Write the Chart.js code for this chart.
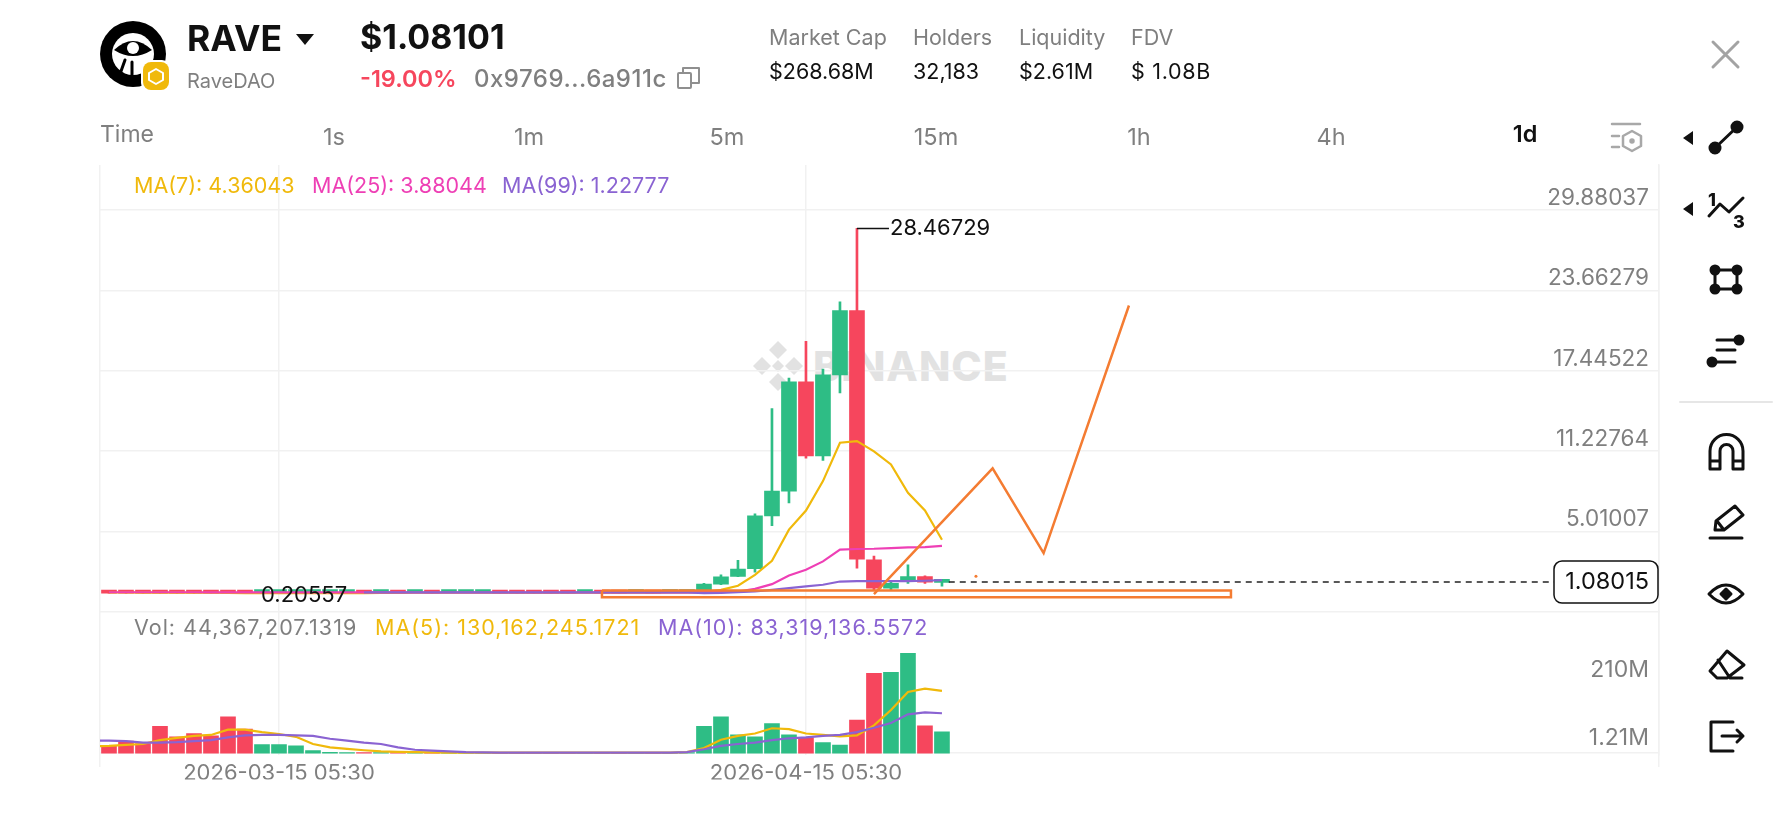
<!DOCTYPE html>
<html>
<head>
<meta charset="utf-8">
<title>RAVE</title>
<script src="https://cdn.jsdelivr.net/npm/chart.js@4/dist/chart.umd.min.js"></script>
<style>
  html, body { margin: 0; padding: 0; background: #fff; }
  body { width: 1792px; height: 828px; position: relative; overflow: hidden; font-family: Inter, sans-serif; }
  #chartBox { position: absolute; left: 0; top: 0; width: 1792px; height: 828px; }
  .t { position: absolute; white-space: nowrap; line-height: 1; transform: translateY(-50%); }
  .grey { color: #7f7f7f; }
  .tab { font-size: 23.5px; color: #7f7f7f; transform: translate(-50%, -50%); }
  .m { font-size: 21.5px; }
  .v { font-size: 21.5px; letter-spacing: 1px; }
  svg.icons { position: absolute; left: 0; top: 0; }
</style>
</head>
<body>
<div class="t" style="left:813px;top:366px;font-size:41px;font-weight:800;color:#e2e2e2;letter-spacing:1px">BINANCE</div>
<svg class="icons" width="1792" height="828">
  <g transform="translate(778 366)" fill="#e2e2e2">
    <path d="M0 -25L9 -16L0 -7L-9 -16Z"/><path d="M0 25L9 16L0 7L-9 16Z"/>
    <path d="M-25 0L-16 -9L-7 0L-16 9Z"/><path d="M25 0L16 -9L7 0L16 9Z"/><path d="M0 -6L6 0L0 6L-6 0Z"/>
  </g>
</svg>
<div id="chartBox"><canvas id="raveChart"></canvas></div>

<div class="t" style="left:187px;top:39px;font-size:35.5px;font-weight:700;color:#111">RAVE</div>
<div class="t grey" style="left:187px;top:81px;font-size:20px">RaveDAO</div>
<div class="t" style="left:360px;top:37px;font-size:34px;font-weight:700;color:#111">$1.08101</div>
<div class="t" style="left:360px;top:79px;font-size:23.5px;font-weight:600;color:#f6465d">-19.00%</div>
<div class="t grey" style="left:474px;top:79px;font-size:24px;font-weight:500;letter-spacing:.5px">0x9769...6a911c</div>

<div class="t grey m" style="left:769px;top:38px">Market Cap</div>
<div class="t m" style="left:769px;top:72px;color:#111">$268.68M</div>
<div class="t grey m" style="left:913px;top:38px">Holders</div>
<div class="t m" style="left:913px;top:72px;color:#111">32,183</div>
<div class="t grey m" style="left:1019px;top:38px">Liquidity</div>
<div class="t m" style="left:1019px;top:72px;color:#111">$2.61M</div>
<div class="t grey m" style="left:1131px;top:38px">FDV</div>
<div class="t m" style="left:1131px;top:72px;color:#111;letter-spacing:.7px">$ 1.08B</div>

<div class="t grey" style="left:100px;top:134px;font-size:23px">Time</div>
<div class="t tab" style="left:334px;top:137px">1s</div>
<div class="t tab" style="left:529px;top:137px">1m</div>
<div class="t tab" style="left:727px;top:137px">5m</div>
<div class="t tab" style="left:936px;top:137px">15m</div>
<div class="t tab" style="left:1139px;top:137px">1h</div>
<div class="t tab" style="left:1331px;top:137px">4h</div>
<div class="t tab" style="left:1525px;top:134px;color:#111;font-weight:600">1d</div>

<div class="t m" style="left:134px;top:186px;color:#f0b90b">MA(7): 4.36043</div>
<div class="t m" style="left:312px;top:186px;color:#ee3fb5">MA(25): 3.88044</div>
<div class="t m" style="left:502px;top:186px;color:#8a63d2">MA(99): 1.22777</div>
<div class="t grey v" style="left:134px;top:628px">Vol: 44,367,207.1319</div>
<div class="t v" style="left:375px;top:628px;color:#f0b90b">MA(5): 130,162,245.1721</div>
<div class="t v" style="left:658px;top:628px;color:#8a63d2">MA(10): 83,319,136.5572</div>

<svg class="icons" width="1792" height="828" fill="none" stroke="#111" stroke-width="3" stroke-linecap="round" stroke-linejoin="round">
  <!-- logo -->
  <circle cx="133" cy="54" r="33" fill="#000" stroke="none"/>
  <circle cx="133" cy="54" r="21" fill="#fff" stroke="none"/>
  <path d="M114 50Q133 32 152 50Q133 62 114 50Z" fill="#000" stroke="none"/>
  <circle cx="133" cy="48" r="6" fill="#fff" stroke="none"/>
  <path d="M125 60L120 74M132 62V76" stroke="#000"/>
  <rect x="141" y="60" width="30" height="32" rx="9" fill="#fff" stroke="none"/>
  <rect x="143" y="62" width="26" height="28" rx="8" fill="#f0b90b" stroke="none"/>
  <path d="M156 69L163 73V80L156 84L149 80V73Z" stroke="#fff" stroke-width="2"/>
  <path d="M296 34H314L305 45Z" fill="#111" stroke="none"/>
  <!-- copy -->
  <g stroke="#8f8f8f" stroke-width="2"><rect x="678" y="73" width="13" height="15" rx="1"/><path d="M683 73V68H699V83H691"/></g>
  <!-- settings -->
  <g stroke="#a8a8a8" stroke-width="2.5">
    <path d="M1612 124H1640M1612 136H1619M1612 147H1619"/>
    <path d="M1632 131L1641 136V146L1632 151L1623 146V136Z"/>
    <circle cx="1632" cy="141" r="1.5" fill="#a8a8a8"/>
  </g>
  <path d="M1713 42L1738 67M1738 42L1713 67" stroke="#a3a3a3"/>
  <!-- toolbar -->
  <path d="M1693 131V145L1683 138Z M1693 202V216L1683 209Z" fill="#111" stroke="none"/>
  <path d="M1715 148L1737 127"/>
  <circle cx="1715" cy="148" r="5" fill="#111"/><circle cx="1737" cy="127" r="5" fill="#111"/>
  <path d="M1709 216L1720 204L1729 212L1743 198"/>
  <text x="1708" y="206" font-size="18" font-weight="800" fill="#111" stroke="none">1</text>
  <text x="1733" y="228" font-size="18" font-weight="800" fill="#111" stroke="none">3</text>
  <rect x="1715" y="270" width="22" height="19"/>
  <g fill="#111"><circle cx="1715" cy="270" r="4"/><circle cx="1737" cy="270" r="4"/><circle cx="1715" cy="289" r="4"/><circle cx="1737" cy="289" r="4"/></g>
  <path d="M1717 340H1738M1717 350H1735M1713 362H1735"/>
  <circle cx="1739" cy="340" r="4" fill="#111"/><circle cx="1712" cy="362" r="4" fill="#111"/>
  <path d="M1680 402H1772" stroke="#e6e6e6" stroke-width="2"/>
  <path d="M1710 469V451a16.5 16.5 0 0 1 33 0V469H1733V451a6.5 6.5 0 0 0-13 0V469ZM1710 461H1720M1733 461H1743"/>
  <path d="M1710 538H1742M1715 530L1716 521L1735 506L1743 515L1724 530Z M1717 521L1724 530"/>
  <path d="M1709 594Q1726 576 1743 594Q1726 612 1709 594Z"/>
  <path d="M1726 589L1731 594L1726 599L1721 594Z" fill="#111"/>
  <path d="M1727 651L1744 665L1727 678L1717 678L1710 671Z M1718 660L1730 678M1730 678H1742"/>
  <path d="M1733 722H1711V751H1733M1722 736H1743M1737 730L1743 736L1737 742"/>
</svg>

<script>
const dates = ['2026-03-15 05:30', '2026-04-15 05:30'];
const dateIndex = [10, 41];

// daily candles
const opens  = [0.31,0.31,0.31,0.31,0.30,0.30,0.30,0.29,0.29,0.26,0.26,0.26,0.27,0.27,0.27,0.29,0.27,0.29,0.27,0.29,0.27,0.27,0.27,0.29,0.29,0.29,0.29,0.29,0.27,0.29,0.29,0.27,0.29,0.27,0.27,0.40,0.92,1.51,2.11,6.20,8.12,16.59,10.84,17.13,22.11,2.81,0.61,1.18,1.51,1.05];
const closes = [0.22,0.22,0.22,0.22,0.22,0.22,0.22,0.22,0.22,0.28,0.28,0.28,0.28,0.28,0.29,0.22,0.29,0.22,0.29,0.22,0.29,0.29,0.29,0.22,0.22,0.22,0.22,0.22,0.29,0.22,0.22,0.29,0.22,0.29,0.29,0.92,1.49,2.08,6.20,8.12,16.59,10.84,17.12,22.11,2.86,0.61,0.99,1.51,1.07,1.08];
const highs  = [0.33,0.33,0.33,0.33,0.32,0.32,0.32,0.31,0.30,0.29,0.29,0.29,0.29,0.29,0.30,0.30,0.30,0.30,0.30,0.30,0.30,0.30,0.30,0.30,0.30,0.30,0.30,0.30,0.30,0.30,0.30,0.30,0.30,0.30,0.34,0.99,1.64,2.76,6.36,14.52,16.88,19.72,17.57,22.78,28.46729,3.09,1.12,2.42,1.56,1.12];
const lows   = [0.21,0.21,0.21,0.21,0.21,0.21,0.21,0.21,0.20557,0.24,0.24,0.24,0.25,0.25,0.25,0.21,0.25,0.21,0.25,0.21,0.25,0.25,0.25,0.21,0.21,0.21,0.21,0.21,0.25,0.21,0.21,0.25,0.21,0.25,0.25,0.35,0.87,1.49,1.85,5.45,7.21,10.68,10.50,15.73,2.16,0.45,0.45,0.97,0.97,0.76];

const ma7  = [0.27,0.27,0.26,0.26,0.26,0.25,0.25,0.24,0.23,0.22,0.22,0.22,0.22,0.22,0.22,0.23,0.24,0.24,0.25,0.25,0.25,0.25,0.25,0.25,0.25,0.25,0.25,0.25,0.25,0.25,0.25,0.26,0.26,0.27,0.28,0.30,0.48,0.79,1.64,2.73,5.14,6.62,8.90,11.87,12.00,11.20,10.19,7.99,6.62,4.36043];
const ma25 = [0.29,0.29,0.29,0.29,0.29,0.29,0.28,0.28,0.28,0.28,0.28,0.28,0.28,0.28,0.28,0.28,0.28,0.28,0.27,0.27,0.27,0.27,0.27,0.27,0.27,0.27,0.27,0.27,0.27,0.27,0.27,0.27,0.27,0.27,0.28,0.30,0.30,0.35,0.55,0.92,1.59,2.03,2.68,3.59,3.64,3.66,3.71,3.76,3.79,3.88044];
const ma99 = [null,null,null,null,null,null,null,null,null,null,null,null,null,null,null,0.28,0.28,0.28,0.28,0.28,0.28,0.28,0.28,0.28,0.28,0.28,0.28,0.28,0.28,0.28,0.28,0.28,0.28,0.28,0.28,0.22,0.24,0.30,0.35,0.48,0.61,0.74,0.87,1.12,1.15,1.15,1.15,1.15,1.18,1.22777];

// volume in millions
const volumes = [14,25,20,56,34,41,36,76,50,18,18,15,5,1.5,1,1,1,1,1,1,1,1,1,1,1,1,1,1,1,1,1,1,1,1,1.2,56,76,38,34,62,38,32,22,17,69,167,169,209,57,44.37];
const volMa5  = [15,17,19,27,32,36,38,49,49,44,40,34,19,12,9,6,3.5,2.7,2,1.5,1,1,1,1,1,1,1,1,1,1,1,1,1,1,2,10.5,28,36,41,52,50,41,38,35,37,58,90,128,135,130.16];
const volMa10 = [26,25,22,22,23,25,27,33,37,38,38,37,36,30,26,22,19,12,7,5,3.5,2,1.5,1,1,1,1,1,1,1,1,1,1,1,2,8,15,19,22,27,31,33,36,38,44,53,63,81,85,83.32];
// the day before the first visible bar, cut off by the left edge
const volMa5Before = 14;
const volMa10Before = 26;

const priceTicks = [29.88037, 23.66279, 17.44522, 11.22764, 5.01007];
const volTicks = [210, 1.21];
const volTickLabels = ['210M', '1.21M'];
const lastPrice = 1.08015;
const highPrice = 28.46729;
const lowPrice = 0.20557;

// the orange drawings on the chart
const zigzagX = [45, 51.98, 54.98, 60];
const zigzagY = [0.14, 9.89, 3.32, 22.5];
const boxX = [29, 66, 66, 29, 29];
const boxY = [0.42, 0.42, -0.09, -0.09, 0.42];
const dotX = [51];
const dotY = [1.53];
const lastLineX = [49.4, 85];

const green = '#2ebd85';
const red = '#f6465d';
const orange = '#f47c32';
const yellow = '#f0b90b';
const pink = '#ee3fb5';
const purple = '#8a63d2';
const gridColor = '#f1f1f1';
const tickColor = '#7f7f7f';
const tickFont = { family: 'Inter', size: 22.5 };

const candleColors = opens.map((o, i) => (closes[i] >= o ? green : red));
const volColors = volumes.map((v, i) => candleColors[i]);
const series = ys => ys.map((y, i) => ({ x: i, y }));
const pairs = (xs, ys) => xs.map((x, i) => ({ x, y: ys[i] }));
const noWidth = s => { s.width = 0; };

function maLine(data, color, yAxisID, order, before) {
    const points = series(data);
    if (before !== undefined) points.unshift({ x: -1, y: before });
    return { type: 'line', data: points, borderColor: color, borderWidth: 2.2, pointRadius: 0, yAxisID, order, spanGaps: false };
}

// labels that are not plain ticks
const overlays = {
    id: 'overlays',
    afterDatasetsDraw(chart) {
        const { ctx, scales: { x, y, vol } } = chart;
        ctx.save();
        ctx.font = '22px Inter';
        ctx.textBaseline = 'middle';
        ctx.fillStyle = '#111';
        ctx.strokeStyle = '#111';
        ctx.lineWidth = 1.5;

        const hx = x.getPixelForValue(highs.indexOf(highPrice));
        const hy = y.getPixelForValue(highPrice);
        ctx.beginPath();
        ctx.moveTo(hx, hy);
        ctx.lineTo(hx + 32, hy);
        ctx.stroke();
        ctx.textAlign = 'left';
        ctx.fillText(highPrice.toFixed(5), hx + 33, hy);

        ctx.fillText(lowPrice.toFixed(5), x.getPixelForValue(lows.indexOf(lowPrice)) + 16, y.getPixelForValue(lowPrice) + 2);

        // current price box
        const ly = y.getPixelForValue(lastPrice);
        ctx.fillStyle = '#fff';
        ctx.beginPath();
        ctx.roundRect(x.right - 105, ly - 21, 104, 42, 8);
        ctx.fill();
        ctx.stroke();
        ctx.font = '23.5px Inter';
        ctx.fillStyle = '#111';
        ctx.textAlign = 'right';
        ctx.fillText(lastPrice.toFixed(5), x.right - 10, ly);

        ctx.font = '23px Inter';
        ctx.fillStyle = tickColor;
        ctx.fillText(volTickLabels[0], x.right - 10, vol.getPixelForValue(volTicks[0]) + 17);
        ctx.fillText(volTickLabels[1], x.right - 10, vol.getPixelForValue(volTicks[1]) - 14);
        ctx.restore();
    }
};

const ctx = document.getElementById('raveChart').getContext('2d');
const raveChart = new Chart(ctx, {
    data: {
        datasets: [
            { type: 'line', data: pairs(zigzagX, zigzagY), borderColor: orange, borderWidth: 2.5, pointRadius: 0, yAxisID: 'y', order: 1 },
            { type: 'line', data: pairs(boxX, boxY), borderColor: orange, borderWidth: 2.5, backgroundColor: 'rgba(244,124,50,0.12)', fill: true, pointRadius: 0, yAxisID: 'y', order: 2 },
            { type: 'line', data: pairs(dotX, dotY), showLine: false, pointRadius: 1.5, pointBackgroundColor: orange, pointBorderWidth: 0, yAxisID: 'y', order: 2 },
            { type: 'line', data: pairs(lastLineX, [lastPrice, lastPrice]), borderColor: '#222', borderWidth: 1.5, borderDash: [6, 5], pointRadius: 0, yAxisID: 'y', order: 3 },
            maLine(ma99, purple, 'y', 4),
            maLine(ma25, pink, 'y', 5),
            maLine(ma7, yellow, 'y', 6),
            { type: 'bar', data: opens.map((o, i) => ({ x: i, y: [o, closes[i]] })), backgroundColor: candleColors, barThickness: 15, minBarLength: 3, grouped: false, yAxisID: 'y', order: 7 },
            { type: 'bar', data: lows.map((l, i) => ({ x: i, y: [l, highs[i]] })), backgroundColor: candleColors, barThickness: 2, grouped: false, yAxisID: 'y', order: 8 },
            maLine(volMa10, purple, 'vol', 1, volMa10Before),
            maLine(volMa5, yellow, 'vol', 2, volMa5Before),
            { type: 'bar', data: series(volumes), backgroundColor: volColors, barThickness: 15, grouped: false, yAxisID: 'vol', order: 9 }
        ]
    },
    options: {
        responsive: true,
        maintainAspectRatio: false,
        animation: false,
        layout: { padding: { left: 100, right: 133, top: 165, bottom: 48.5 } },
        plugins: { legend: { display: false }, tooltip: { enabled: false } },
        scales: {
            x: {
                type: 'linear',
                offset: false,
                min: -0.529,
                max: 91.18,
                afterBuildTicks: s => { s.ticks = [s.min, ...dateIndex, s.max].map(value => ({ value })); },
                grid: {
                    offset: false, color: gridColor, lineWidth: 1.5, tickLength: 12,
                    // only the two outer lines run on below the volume baseline
                    tickColor: c => (dateIndex.includes(c.tick.value) ? 'transparent' : gridColor)
                },
                border: { display: false },
                ticks: {
                    autoSkip: false, maxRotation: 0, padding: -7, color: tickColor, font: { family: 'Inter', size: 22 },
                    callback: v => (dateIndex.includes(v) ? dates[dateIndex.indexOf(v)] : '')
                }
            },
            y: {
                position: 'right', stack: 'panes', stackWeight: 445,
                min: -1.2075, max: 33.38,
                afterFit: noWidth,
                afterBuildTicks: s => { s.ticks = [...priceTicks, s.min].map(value => ({ value })); },
                grid: { color: gridColor, lineWidth: 1.5, drawTicks: false },
                border: { color: gridColor, width: 1.5 },
                ticks: {
                    mirror: true, padding: -10, labelOffset: -12, color: tickColor, font: tickFont,
                    callback: v => (priceTicks.includes(v) ? v.toFixed(5) : '')
                }
            },
            vol: {
                position: 'right', stack: 'panes', stackWeight: 143,
                min: -4.2, max: 296.1,
                afterFit: noWidth,
                afterBuildTicks: s => { s.ticks = [volTicks[1]].map(value => ({ value })); },
                grid: { color: gridColor, lineWidth: 1.5, drawTicks: false },
                border: { color: gridColor, width: 1.5 },
                ticks: { display: false }
            }
        }
    },
    plugins: [overlays]
});
</script>
</body>
</html>
